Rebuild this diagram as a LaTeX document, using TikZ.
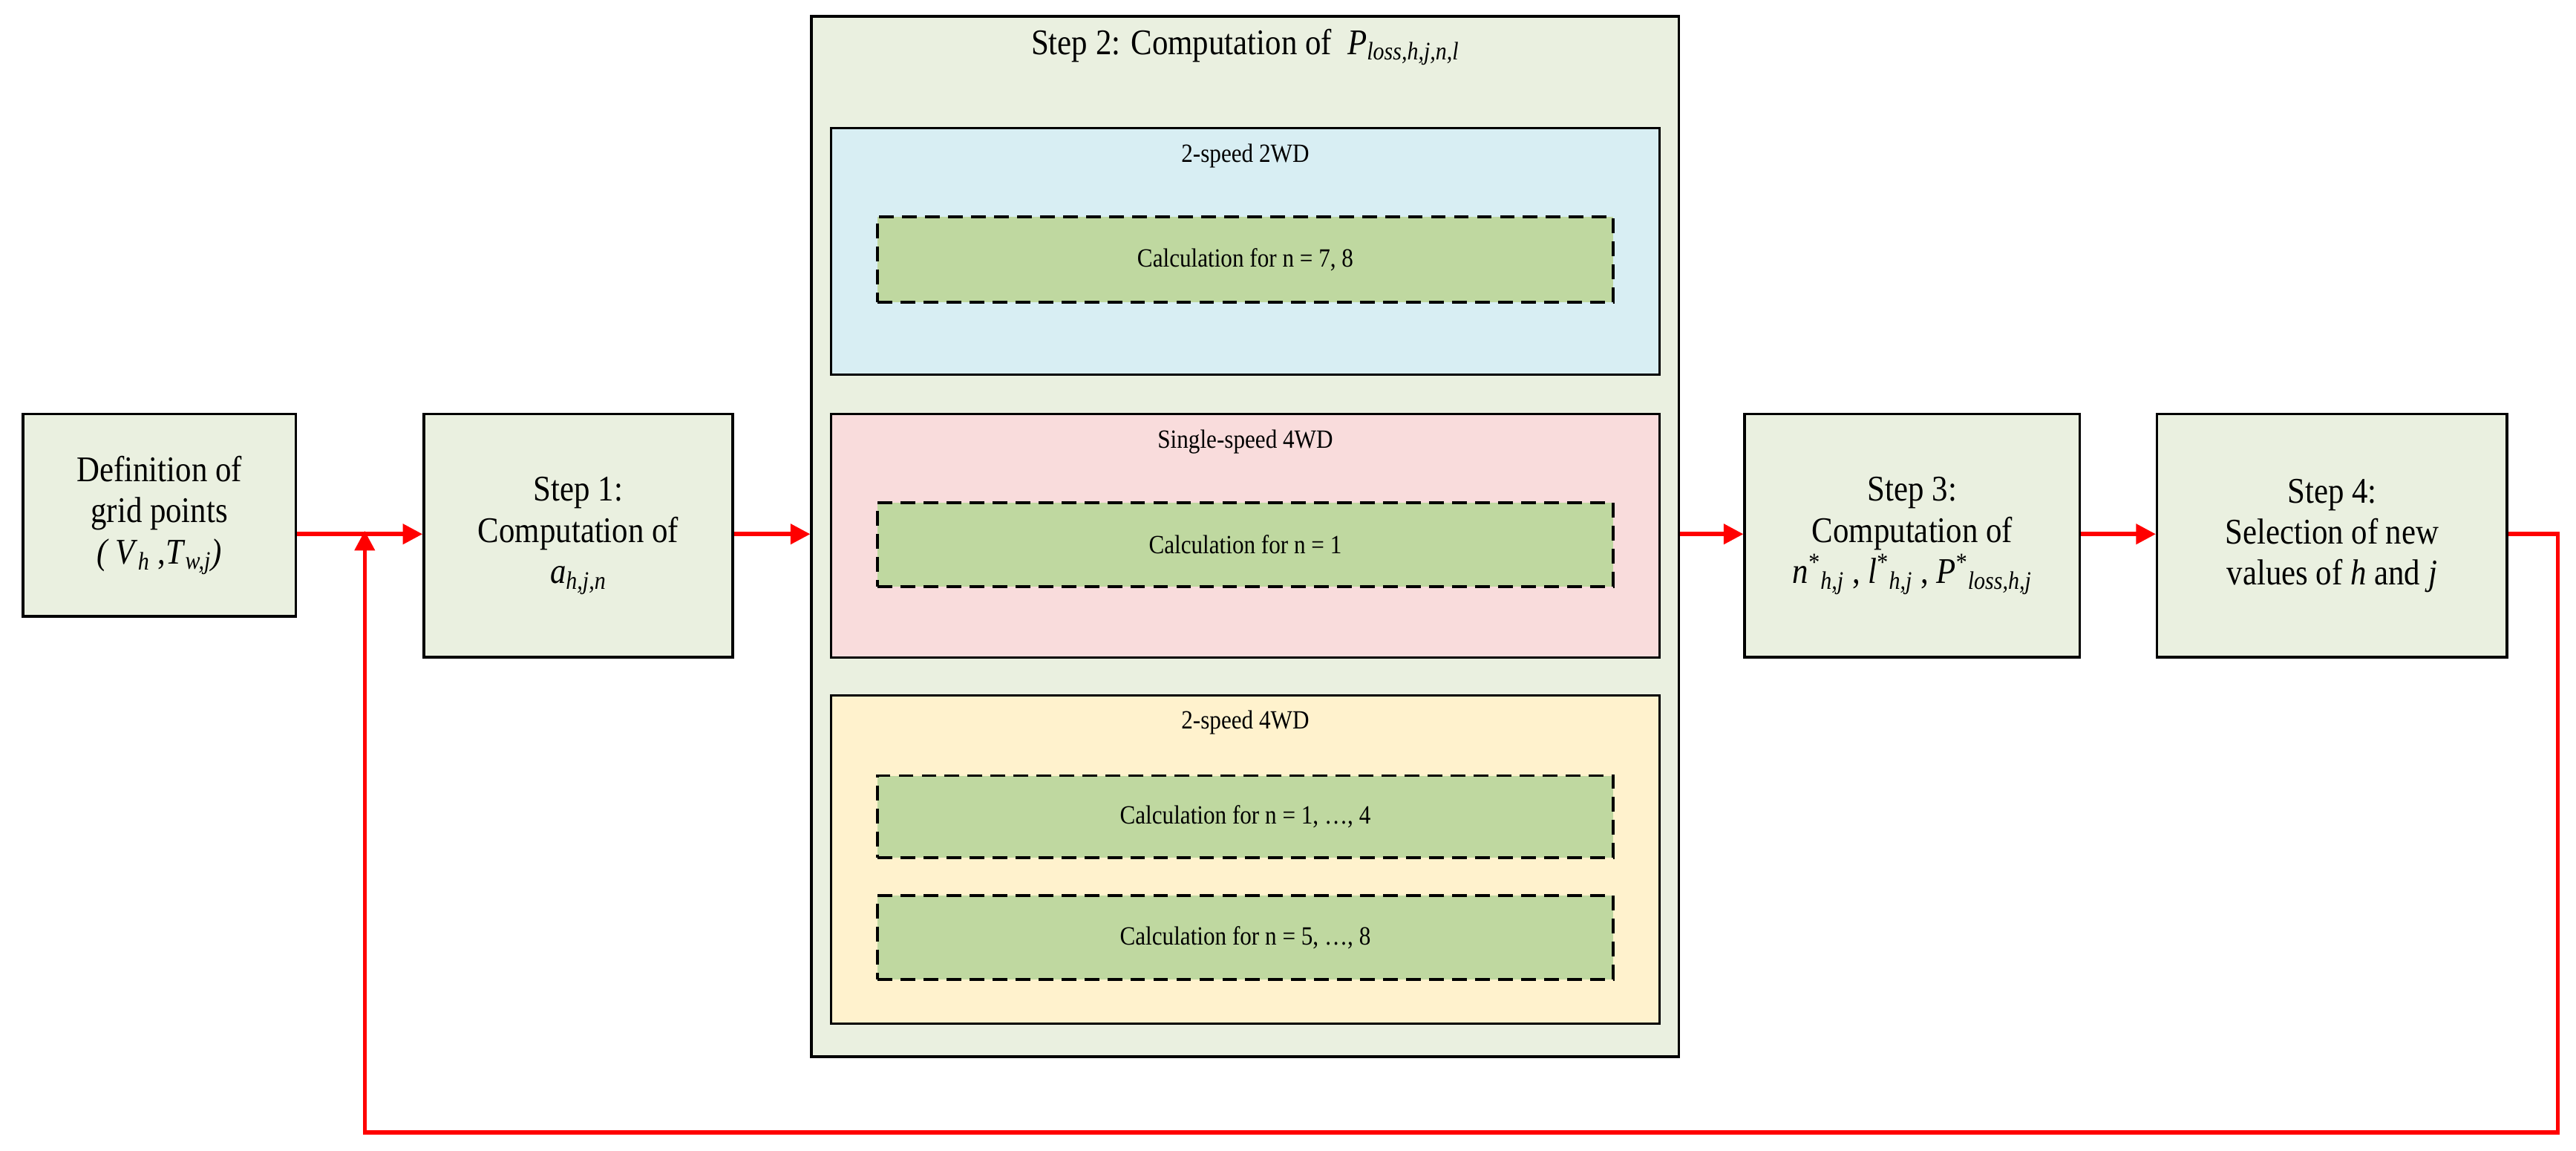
\documentclass[tikz,border=0pt]{standalone}
\usepackage{fontspec}
\setmainfont{Liberation Serif}[FakeStretch=0.88]
\newfontfamily\tnr{Liberation Serif}[FakeStretch=0.88]
\usetikzlibrary{arrows.meta}
\definecolor{boxg}{HTML}{EAF0E0}
\definecolor{boxb}{HTML}{D8EEF3}
\definecolor{boxp}{HTML}{F9DCDC}
\definecolor{boxy}{HTML}{FFF2CD}
\definecolor{calc}{HTML}{BFD8A0}
\newcommand{\ii}[1]{\textit{#1}}
\newcommand{\sbi}[1]{\textsubscript{\textit{#1}}}
\begin{document}
\begin{tikzpicture}[x=1pt,y=-1pt,
  box/.style={draw=black,line width=1.6pt,fill=boxg,align=center,font=\tnr\fontsize{22}{25}\selectfont,inner sep=0},
  sub/.style={draw=black,line width=1.4pt,inner sep=0},
  calc/.style={draw=black,line width=1.6pt,dash pattern=on 9pt off 5pt,fill=calc,font=\tnr\fontsize{16}{19}\selectfont,inner sep=0},
  lab/.style={font=\tnr\fontsize{16}{19}\selectfont},
  arr/.style={draw=red,line width=2.5pt,-{Triangle[length=12pt,width=12pt]}}]
\useasboundingbox (0,0) rectangle (1568,700);
\node[box,minimum width=166pt,minimum height=123pt] (def) at (97,313.5) {Definition of\\grid points\\\ii{( V}\sbi{h} ,\ii{T}\sbi{w,j}\ii{)}};
\node[box,minimum width=188pt,minimum height=148pt] (s1) at (352,326) {Step 1:\\Computation of\\\ii{a}\sbi{h,j,n}};
\node[box,minimum width=528pt,minimum height=633pt] (s2) at (758,326.5) {};
\node[font=\tnr\fontsize{22}{25}\selectfont,anchor=north] (s2t) at (758,14) {Step 2: Computation of \ \ii{P}\sbi{loss,h,j,n,l}};
\node[sub,fill=boxb,minimum width=504pt,minimum height=150pt] (b1) at (758,153) {};
\node[lab,anchor=north] (b1t) at (758,84) {2-speed 2WD};
\node[calc,minimum width=448pt,minimum height=52pt] (c1) at (758,158) {Calculation for n = 7, 8};
\node[sub,fill=boxp,minimum width=504pt,minimum height=148pt] (b2) at (758,326) {};
\node[lab,anchor=north] (b2t) at (758,258) {Single-speed 4WD};
\node[calc,minimum width=448pt,minimum height=51pt] (c2) at (758,331.5) {Calculation for n = 1};
\node[sub,fill=boxy,minimum width=504pt,minimum height=200pt] (b3) at (758,523) {};
\node[lab,anchor=north] (b3t) at (758,429) {2-speed 4WD};
\node[calc,minimum width=448pt,minimum height=50pt] (c3) at (758,497) {Calculation for n = 1, …, 4};
\node[calc,minimum width=448pt,minimum height=51pt] (c4) at (758,570.5) {Calculation for n = 5, …, 8};
\node[box,minimum width=204pt,minimum height=148pt] (s3) at (1164,326) {Step 3:\\Computation of\\\ii{n}\textsuperscript{*}\sbi{h,j} , \ii{l}\textsuperscript{*}\sbi{h,j} , \ii{P}\textsuperscript{*}\sbi{loss,h,j}};
\node[box,minimum width=213pt,minimum height=148pt] (s4) at (1419.5,326) {Step 4:\\Selection of new\\values of \ii{h} and \ii{j}};
\coordinate (j) at (222,325);
\coordinate (r) at (1557,325);
\coordinate (rb) at (1557,689);
\coordinate (lb) at (222,689);
\draw[arr] (def.east|-j) -- (s1.west|-j);
\draw[arr] (s1.east|-j) -- (s2.west|-j);
\draw[arr] (s2.east|-j) -- (s3.west|-j);
\draw[arr] (s3.east|-j) -- (s4.west|-j);
\draw[arr] (s4.east|-j) -- (r) -- (rb) -- (lb) -- ([yshift=2pt]j);
\end{tikzpicture}
\end{document}
